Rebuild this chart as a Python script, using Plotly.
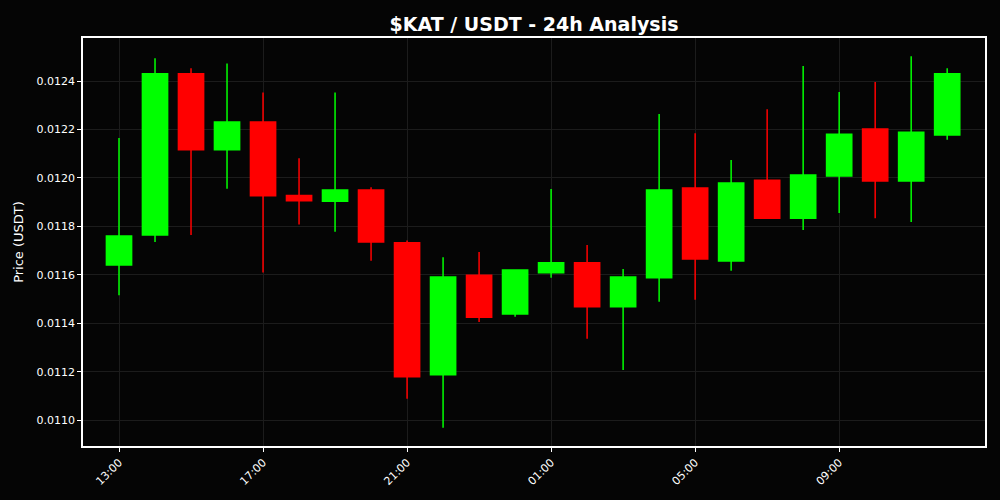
import pandas as pd
from plotly import graph_objects as go

# hourly candles, 13:00 -> 12:00 next day
hours = ["13:00", "14:00", "15:00", "16:00", "17:00", "18:00", "19:00", "20:00",
         "21:00", "22:00", "23:00", "00:00", "01:00", "02:00", "03:00", "04:00",
         "05:00", "06:00", "07:00", "08:00", "09:00", "10:00", "11:00", "12:00"]
open_ = [0.011640, 0.011764, 0.012430, 0.012116, 0.012231, 0.011928, 0.011904, 0.011950,
         0.011732, 0.011187, 0.011598, 0.011438, 0.011608, 0.011650, 0.011468, 0.011588,
         0.011958, 0.011657, 0.011991, 0.011834, 0.012008, 0.012202, 0.011987, 0.012177]
high = [0.012165, 0.012494, 0.012453, 0.012473, 0.012353, 0.012081, 0.012353, 0.011962,
        0.011742, 0.011673, 0.011694, 0.011622, 0.011954, 0.011723, 0.011624, 0.012264,
        0.012185, 0.012074, 0.012284, 0.012462, 0.012355, 0.012396, 0.012503, 0.012453]
low = [0.011516, 0.011736, 0.011764, 0.011955, 0.011610, 0.011808, 0.011778, 0.011658,
       0.011088, 0.010968, 0.011405, 0.011427, 0.011588, 0.011336, 0.011207, 0.011489,
       0.011497, 0.011617, 0.011834, 0.011785, 0.011855, 0.011834, 0.011818, 0.012158]
close = [0.011760, 0.012430, 0.012116, 0.012231, 0.011926, 0.011906, 0.011950, 0.011736,
         0.011179, 0.011591, 0.011425, 0.011620, 0.011650, 0.011468, 0.011591, 0.011950,
         0.011665, 0.011979, 0.011834, 0.012012, 0.012181, 0.011987, 0.012189, 0.012430]

xtick_labels = ["13:00", "17:00", "21:00", "01:00", "05:00", "09:00"]
ytick_vals = [0.0110, 0.0112, 0.0114, 0.0116, 0.0118, 0.0120, 0.0122, 0.0124]

start = pd.Timestamp("2024-01-01 13:00")
times = pd.date_range(start, periods=len(hours), freq="h")
xtick_vals = [times[hours.index(h)] for h in xtick_labels]

fig = go.Figure(
    go.Candlestick(
        x=times,
        open=open_,
        high=high,
        low=low,
        close=close,
        increasing=dict(line=dict(color="#00ff00", width=1.5), fillcolor="#00ff00"),
        decreasing=dict(line=dict(color="#ff0000", width=1.5), fillcolor="#ff0000"),
        whiskerwidth=0,
    )
)

axis_common = dict(
    showline=True,
    linecolor="#ffffff",
    linewidth=1.5,
    mirror=True,
    gridcolor="#1c1c1c",
    zeroline=False,
    ticks="outside",
    tickcolor="#ffffff",
    ticklen=4,
    tickfont=dict(size=11, color="#ffffff"),
)

fig.update_layout(
    width=1000,
    height=500,
    paper_bgcolor="#050505",
    plot_bgcolor="#050505",
    font=dict(family="DejaVu Sans", color="#ffffff"),
    title=dict(
        text="<b>$KAT / USDT - 24h Analysis</b>",
        x=0.534,
        xanchor="center",
        y=0.952,
        yanchor="middle",
        font=dict(size=19, color="#ffffff"),
    ),
    margin=dict(l=83, r=15, t=38, b=54, autoexpand=False),
    showlegend=False,
    boxgap=0.0,
)
fig.update_xaxes(
    axis_common,
    type="date",
    rangeslider_visible=False,
    range=[start - pd.Timedelta(hours=1), start + pd.Timedelta(hours=24.05)],
    tickvals=xtick_vals,
    ticktext=xtick_labels,
    tickangle=-45,
)
fig.update_yaxes(
    axis_common,
    range=[0.010893, 0.012578],
    tickvals=ytick_vals,
    tickformat=".4f",
    title=dict(text="Price (USDT)", font=dict(size=13, color="#ffffff"), standoff=10),
)

fig.write_html(
    "out.html",
    config={"displayModeBar": False},
    post_script="document.body.style.margin='0';",
)
